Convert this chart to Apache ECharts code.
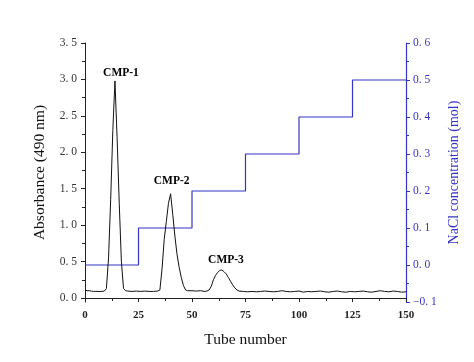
<!DOCTYPE html>
<html>
<head>
<meta charset="utf-8">
<script src="https://cdn.jsdelivr.net/npm/echarts@6/dist/echarts.min.js"></script>
<style>html,body{margin:0;padding:0;background:#fff;}#c{width:474px;height:362px;}</style>
</head>
<body>
<div id="c"></div>
<script>
var tubes = [0,1,2,3,4,5,6,7,8,9,10,11,12,13,14,15,16,17,18,19,20,22,24,26,28,30,32,34,35,36,37,38,39,40,41,42,43,44,45,46,47,48,50,52,54,56,57,58,59,60,61,62,63,64,65,66,67,68,69,70,71,72,74,76,78,80,82,84,86,88,90,92,94,96,98,100,102,104,106,108,110,112,114,116,118,120,122,124,126,128,130,132,134,136,138,140,142,144,146,148,150];
var absorbance = [0.11,0.1,0.1,0.095,0.09,0.09,0.09,0.09,0.09,0.095,0.13,0.55,1.35,2.3,2.98,2.2,1.3,0.5,0.13,0.1,0.095,0.09,0.095,0.09,0.095,0.09,0.09,0.095,0.11,0.4,0.8,1.05,1.3,1.43,1.15,0.85,0.6,0.42,0.28,0.17,0.11,0.1,0.1,0.095,0.1,0.09,0.095,0.11,0.16,0.25,0.31,0.35,0.38,0.385,0.36,0.33,0.28,0.23,0.18,0.14,0.11,0.095,0.09,0.085,0.09,0.085,0.09,0.095,0.09,0.085,0.09,0.1,0.09,0.085,0.09,0.095,0.08,0.09,0.085,0.09,0.095,0.085,0.08,0.09,0.095,0.085,0.08,0.09,0.085,0.09,0.095,0.085,0.08,0.09,0.1,0.09,0.085,0.095,0.09,0.08,0.085];
var nacl = [[0,0],[25,0],[25,0.1],[50,0.1],[50,0.2],[75,0.2],[75,0.3],[100,0.3],[100,0.4],[125,0.4],[125,0.5],[150,0.5]];
var peakLabels = ['CMP-1','CMP-2','CMP-3'];
var peakTubes = [14,40,64];
var leftTicks = [0,0.5,1,1.5,2,2.5,3,3.5];
var leftMinor = [0.25,0.75,1.25,1.75,2.25,2.75,3.25];

var BLUE = '#3434c4';
var serif = 'Liberation Serif, Times New Roman, serif';
function fmt(v){ return v.toFixed(1).replace('.', '. '); }

var labelOffsets = [[6,-8],[1,-13],[4,-10]];
var peakData = peakTubes.map(function(t,k){
  return {
    value:[t, absorbance[tubes.indexOf(t)]],
    label:{show:true, formatter:peakLabels[k], position:'inside', offset:labelOffsets[k], opacity:1,
      fontFamily:serif, fontWeight:'bold', fontSize:11.5, color:'#000', textBorderWidth:0}
  };
});

var chart = echarts.init(document.getElementById('c'));
chart.setOption({
  backgroundColor:'#fff',
  animation:false,
  grid:{left:85,right:68,top:43,bottom:60},
  xAxis:{type:'value',min:0,max:150,interval:25,
    name:'Tube number',nameLocation:'middle',nameGap:30,
    nameTextStyle:{fontFamily:serif,fontSize:15.5,color:'#111'},
    axisLine:{lineStyle:{color:'#222',width:1}},
    axisTick:{inside:false,length:4,lineStyle:{color:'#222'}},
    minorTick:{show:true,splitNumber:2,length:3,lineStyle:{color:'#222'}},
    axisLabel:{fontFamily:serif,fontSize:11,color:'#222',margin:8,fontWeight:'bold'},
    splitLine:{show:false}},
  yAxis:[
    {type:'value',min:-0.055,max:3.5,position:'left',
      name:'Absorbance (490 nm)',nameLocation:'middle',nameGap:37,nameRotate:90,
      nameTextStyle:{fontFamily:serif,fontSize:15.5,color:'#111'},
      axisLine:{show:true,lineStyle:{color:'#222',width:1}},
      axisTick:{show:true,length:4,customValues:leftTicks,lineStyle:{color:'#222'}},
      axisLabel:{customValues:leftTicks,fontFamily:serif,fontSize:11.5,color:'#333',margin:8,formatter:fmt},
      splitLine:{show:false}},
    {type:'value',min:-0.1,max:0.6,interval:0.1,position:'right',
      name:'NaCl concentration (mol)',nameLocation:'middle',nameGap:36,nameRotate:90,
      nameTextStyle:{fontFamily:serif,fontSize:14,color:BLUE},
      axisLine:{show:true,lineStyle:{color:BLUE,width:1.2}},
      axisTick:{show:true,length:4,lineStyle:{color:BLUE}},
      minorTick:{show:true,splitNumber:2,length:3,lineStyle:{color:BLUE}},
      axisLabel:{fontFamily:serif,fontSize:11.5,color:BLUE,margin:7,formatter:function(v){return (v<0?'\u2212':'')+fmt(Math.abs(v));}},
      splitLine:{show:false}},
    {type:'value',min:-0.055,max:3.5,position:'left',
      axisLine:{show:false},
      axisTick:{show:true,length:3,customValues:leftMinor,lineStyle:{color:'#222'}},
      axisLabel:{show:false},
      splitLine:{show:false}}
  ],
  series:[
    {type:'line',yAxisIndex:1,data:nacl,showSymbol:false,symbol:'none',
      lineStyle:{color:BLUE,width:1.2},z:2},
    {type:'line',yAxisIndex:0,data:tubes.map(function(t,i){return [t,absorbance[i]];}),showSymbol:false,symbol:'none',
      lineStyle:{color:'#111',width:1},z:3},
    {type:'scatter',yAxisIndex:0,data:peakData,symbol:'circle',symbolSize:1,
      itemStyle:{color:'rgba(0,0,0,0)'},silent:true,z:4}
  ]
});
</script>
</body>
</html>
